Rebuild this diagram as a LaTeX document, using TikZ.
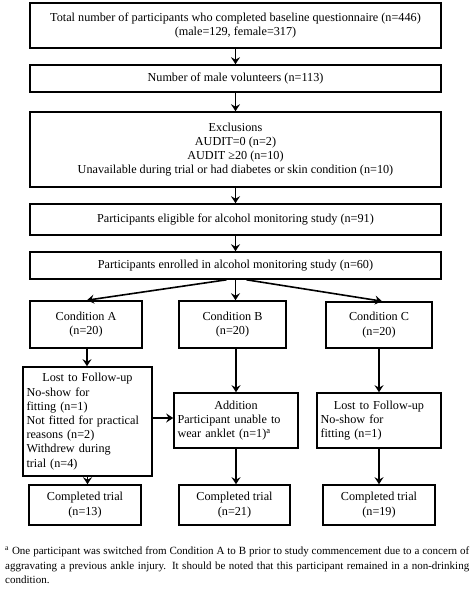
\documentclass[tikz,border=0pt]{standalone}
\usepackage{fontspec}
\setmainfont{Liberation Serif}
\usetikzlibrary{arrows.meta}
\begin{document}
\begin{tikzpicture}[x=1pt,y=-1pt,
  box/.style={draw,line width=1.6pt,rectangle,align=center,inner sep=2pt,font=\fontsize{12.2}{14.2}\selectfont},
  arr/.style={line width=1.6pt,-{Stealth[length=7pt,width=9pt,inset=2.5pt]}}]
\useasboundingbox (0,0) rectangle (474,594);
\node[box,minimum width=411,minimum height=45] (top) at (235.5,25.5) {Total number of participants who completed baseline questionnaire (n=446)\\(male=129, female=317)};
\node[box,minimum width=411,minimum height=27] (male) at (235.5,78.5) {Number of male volunteers (n=113)};
\node[box,minimum width=411,minimum height=75] (excl) at (235.5,149.5) {Exclusions\\AUDIT=0 (n=2)\\AUDIT ≥20 (n=10)\\Unavailable during trial or had diabetes or skin condition (n=10)};
\node[box,minimum width=411,minimum height=31] (elig) at (235.5,219.5) {Participants eligible for alcohol monitoring study (n=91)};
\node[box,minimum width=411,minimum height=27] (enr) at (235.5,265.5) {Participants enrolled in alcohol monitoring study (n=60)};
\node[box,minimum width=112,minimum height=47] (condA) at (86,324.5) {Condition A\\(n=20)};
\node[box,minimum width=107,minimum height=47] (condB) at (232.5,324.5) {Condition B\\(n=20)};
\node[box,minimum width=106,minimum height=46] (condC) at (379,325) {Condition C\\(n=20)};
\node[box,minimum width=129,minimum height=109,text width=122,align=left] (lostA) at (87.5,421.5) {\centering Lost to Follow-up\par\raggedright No-show for\\fitting (n=1)\\Not fitted for practical\\reasons (n=2)\\Withdrew during\\trial (n=4)};
\node[box,minimum width=124,minimum height=55,text width=117,align=left] (add) at (236,420.5) {\centering Addition\par\raggedright Participant unable to\\wear anklet (n=1)\textsuperscript{a}};
\node[box,minimum width=124,minimum height=55,text width=117,align=left] (lostC) at (379,420.5) {\centering Lost to Follow-up\par\raggedright No-show for\\fitting (n=1)};
\node[box,minimum width=112,minimum height=40] (compA) at (85,505) {Completed trial\\(n=13)};
\node[box,minimum width=111,minimum height=40] (compB) at (234.5,505) {Completed trial\\(n=21)};
\node[box,minimum width=112,minimum height=40] (compC) at (379,505) {Completed trial\\(n=19)};
\node[anchor=north west,inner sep=0pt,text width=464,align=justify,font=\fontsize{11}{14.5}\selectfont] (note) at (5,547) {\textsuperscript{a} One participant was switched from Condition A to B prior to study commencement due to a concern of aggravating a previous ankle injury. It should be noted that this participant remained in a non-drinking condition.};
\draw[arr] (top.south) -- (male.north);
\draw[arr] (male.south) -- (excl.north);
\draw[arr] (excl.south) -- (elig.north);
\draw[arr] (elig.south) -- (enr.north);
\draw[arr] ([xshift=-9pt]enr.south) -- ([xshift=1pt]condA.north);
\draw[arr] (enr.south) -- (enr.south |- condB.north);
\draw[arr] ([xshift=11pt]enr.south) -- ([xshift=3pt]condC.north);
\draw[arr] ([xshift=1pt]condA.south) -- ([xshift=1pt]condA.south |- lostA.north);
\draw[arr] (condB.south -| add.north) -- (add.north);
\draw[arr] (condC.south) -- (lostC.north);
\draw[arr] ([yshift=3.5pt]lostA.east) -- ([yshift=3.5pt]lostA.east -| add.west);
\draw[arr] (lostA.south) -- (lostA.south |- compA.north);
\draw[arr] (add.south) -- (add.south |- compB.north);
\draw[arr] (lostC.south) -- (compC.north);
\end{tikzpicture}
\end{document}
